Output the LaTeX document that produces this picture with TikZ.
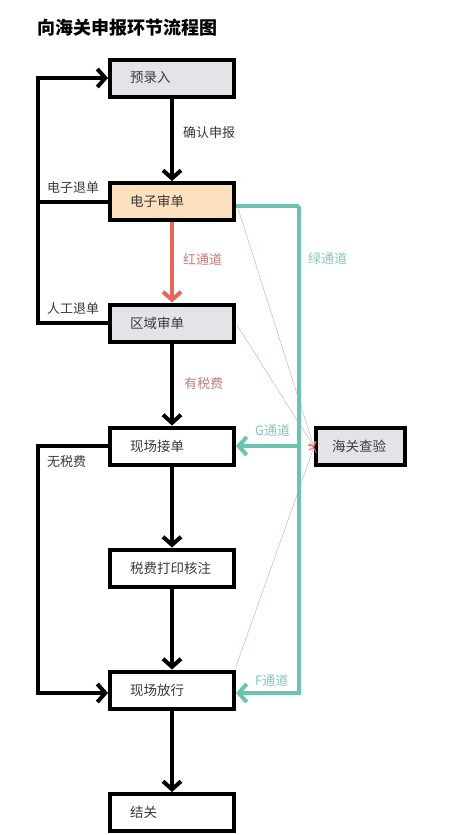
\documentclass[tikz,border=0pt]{standalone}
\usepackage{fontspec}
\setmainfont{Noto Sans CJK SC}
\usetikzlibrary{arrows.meta}
\definecolor{boxgray}{HTML}{E4E4E8}
\definecolor{peach}{HTML}{FCE0C0}
\definecolor{redarr}{HTML}{E8665A}
\definecolor{redlab}{HTML}{C47C7C}
\definecolor{teal}{HTML}{6CC3B3}
\definecolor{teallab}{HTML}{86C8BC}
\definecolor{thin}{HTML}{CDB8B8}
\definecolor{txt}{HTML}{3A3A3A}
\tikzset{
  box/.style={draw=black, line width=4pt, minimum width=124pt, minimum height=37pt,
    text width=84pt, inner xsep=20pt, align=left, font=\fontsize{13.5}{15}\selectfont, text=txt},
  lab/.style={anchor=west, inner sep=0pt, font=\fontsize{13}{15}\selectfont, text=txt},
  flow/.style={line width=4pt, -{Straight Barb[length=8pt,width=18pt,line width=4pt]}},
  line/.style={line width=4pt},
  gflow/.style={line width=4pt, draw=teal, -{Straight Barb[length=8pt,width=18pt,line width=4pt]}},
  faint/.style={line width=0.5pt, draw=thin, -{Straight Barb[length=4pt,width=8pt,line width=0.9pt,color=redarr]}}
}
\begin{document}
\begin{tikzpicture}[x=1pt,y=-1pt]
\useasboundingbox (0,0) rectangle (474,835);
\fill[white] (0,0) rectangle (474,835);
\node[anchor=west, inner sep=0pt, font=\fontsize{18}{20}\selectfont\bfseries] (title) at (37,28) {向海关申报环节流程图};

\node[box, fill=boxgray] (b1) at (172,78) {预录入};
\node[box, fill=peach] (b2) at (172,201.5) {电子审单};
\node[box, fill=boxgray] (b3) at (172,323) {区域审单};
\node[box, fill=white] (b4) at (172,446) {现场接单};
\node[box, fill=white] (b5) at (172,568) {税费打印核注};
\node[box, fill=white] (b6) at (172,690) {现场放行};
\node[box, fill=white] (b7) at (172,812.5) {结关};
\node[box, fill=boxgray, minimum width=89pt, text width=57pt, inner xsep=16pt] (hg) at (360.5,446) {海关查验};

% faint lines
\draw[faint] ([xshift=2pt,yshift=-7pt]b2.east) -- ([yshift=-1pt]hg.west);
\draw[faint] ([xshift=1pt,yshift=-2pt]b3.east) -- ([yshift=-1pt]hg.west);
\draw[faint] ([yshift=3pt]b6.north east) -- ([yshift=-1pt]hg.west);

% main flow
\draw[flow] (b1) -- (b2);
\draw[flow, draw=redarr, -{Straight Barb[length=8pt,width=18pt,line width=4pt,color=redarr]}] (b2) -- (b3);
\draw[flow] (b3) -- (b4);
\draw[flow] (b4) -- (b5);
\draw[flow] (b5) -- (b6);
\draw[flow] (b6) -- (b7);

% left loops
\coordinate (lb) at (38,323);
\coordinate (lm) at (38,201.5);
\draw[line] (b2.west) -- (lm);
\draw[flow] (b3.west) -- (lb) |- (b1.west);
\coordinate (nb) at (38,446);
\draw[flow] (b4.west) -- (nb) |- ([yshift=-3pt]b6.west);

% green channel
\coordinate (gt) at (299,206);
\coordinate (gm) at (299,446);
\coordinate (gb) at (299,693);
\draw[line, draw=teal] ([yshift=-4.5pt]b2.east) -- (gt);
\draw[gflow] (gt) -- (gb) -- ([yshift=-3pt]b6.east);
\draw[gflow] (gm) -- (b4.east);

% labels
\node[lab] (l1) at (183,133) {确认申报};
\node[lab, text=redlab] (l2) at (183,259) {红通道};
\node[lab, text=redlab] (l3) at (184,384) {有税费};
\node[lab, text=teallab] (l4) at (308,259) {绿通道};
\node[lab, text=teallab] (l5) at (255,430) {G通道};
\node[lab, text=teallab] (l6) at (255,680) {F通道};
\node[lab] (l7) at (47,188) {电子退单};
\node[lab] (l8) at (47,309) {人工退单};
\node[lab] (l9) at (47,462) {无税费};
\end{tikzpicture}
\end{document}
